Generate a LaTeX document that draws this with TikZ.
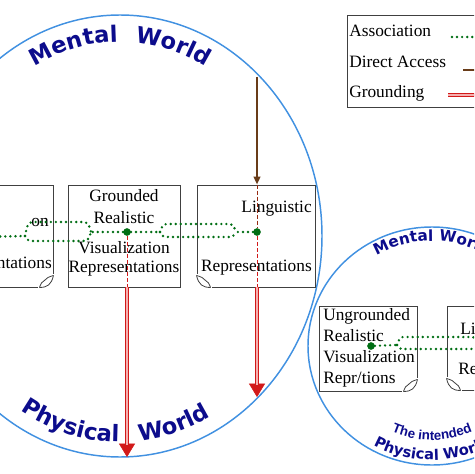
\documentclass[tikz,border=0pt]{standalone}
\usepackage{fontspec}
\setmainfont{Liberation Serif}
\newfontfamily\artfont{DejaVu Sans}
\newfontfamily\artnarrow{Liberation Sans}
\usetikzlibrary{arrows.meta,calc,decorations.text}

\definecolor{worldblue}{RGB}{65,145,225}
\definecolor{navytext}{RGB}{12,12,140}
\definecolor{assocgreen}{RGB}{0,110,20}
\definecolor{accessbrown}{RGB}{105,60,25}
\definecolor{groundred}{RGB}{210,25,25}
\definecolor{groundpink}{RGB}{245,175,175}

\tikzset{
  world/.style={draw=worldblue, line width=1.1pt},
  card/.style={draw=black!75, fill=white, line width=0.7pt, inner sep=0pt},
  cardline/.style={draw=black!75, line width=0.6pt},
  lbl/.style={font=\fontsize{13}{16}\selectfont, inner sep=0pt},
  bigart/.style={decorate, decoration={text along path,
    text={|\artfont\bfseries\fontsize{17}{20}\selectfont\color{navytext}|#1}}},
  assoc/.style={draw=assocgreen, line width=2pt, line cap=round, dash pattern=on 0pt off 3.8pt},
  assocdot/.style={circle, fill=assocgreen, inner sep=0pt, minimum size=5.5pt},
  accessline/.style={draw=accessbrown, line width=1.5pt},
  access/.style={accessline, -{Triangle[width=5pt,length=6pt]}},
  accessdash/.style={draw=accessbrown!70!red, line width=0.6pt, dash pattern=on 3pt off 1.5pt},
  grounddash/.style={draw=groundred, line width=0.6pt, dash pattern=on 3pt off 1.5pt},
  ground/.style={draw=groundred, double=groundpink, double distance=2pt, line width=0.8pt},
  groundtip/.style={draw=groundred, line width=0.4pt, -{Triangle[width=12pt,length=10pt]}},
}

\begin{document}
\begin{tikzpicture}[x=0.75pt, y=-0.75pt, >=latex]
\useasboundingbox (0,0) rectangle (474,474);
\clip (0,0) rectangle (474,474);

% the two worlds
\draw[world] (120,236) ellipse [x radius=202, y radius=221];
\draw[world] (432,346) ellipse [x radius=124, y radius=119];

\path[bigart=Mental, decoration={text align=right}]
  (120,236) ++(200:175 and 194) arc[start angle=200, end angle=269.3, x radius=175, y radius=194];
\path[bigart=World, decoration={text align=left}]
  (120,236) ++(274.9:175 and 194) arc[start angle=274.9, end angle=340, x radius=175, y radius=194];
\path[bigart=Physical, decoration={text align=right}]
  (120,236) ++(150:187 and 206) arc[start angle=150, end angle=90.3, x radius=187, y radius=206];
\path[bigart=World, decoration={text align=left}]
  (120,236) ++(83.9:187 and 206) arc[start angle=83.9, end angle=30, x radius=187, y radius=206];
\path[decorate, decoration={text along path, text align=center,
  text={|\artfont\bfseries\fontsize{11.5}{14}\selectfont\color{navytext}|Mental World}}]
  (432,346) ++(200:110 and 105) arc[start angle=200, end angle=340, x radius=110, y radius=105];
\path[decorate, decoration={text along path, text align=center,
  text={|\artfont\bfseries\fontsize{11}{14}\selectfont\color{navytext}|Physical World}}]
  (432,346) ++(150:119 and 114) arc[start angle=150, end angle=30, x radius=119, y radius=114];
\path[decorate, decoration={text along path, text align=center,
  text={|\artnarrow\bfseries\fontsize{10}{12}\selectfont\color{navytext}|The intended}}]
  (432,346) ++(140:99 and 94) arc[start angle=140, end angle=40, x radius=99, y radius=94];

% representations
\node[card, minimum width=84.75pt, minimum height=76.5pt] (rep) at (-3.5,236) {};
\node[card, minimum width=84pt, minimum height=76.5pt] (grd) at (124,236) {};
\node[card, minimum width=88.5pt, minimum height=76.5pt] (ling) at (256,236) {};
\node[card, minimum width=73.5pt, minimum height=63.75pt] (ungr) at (368,348.5) {};
\node[card, minimum width=90pt, minimum height=63pt] (ling2) at (507,348) {};

% folded corners
\foreach \b/\a/\s/\m in {rep/south east/1/-1, ling/south west/-1/1, ungr/south east/1/-1, ling2/south west/-1/1}
{
    \fill[white] ($(\b.\a)+(\m*15,-13)$) rectangle ($(\b.\a)+(\s*1.5,1.5)$);
    \draw[cardline] ($(\b.\a)+(0,-12)$) .. controls ($(\b.\a)+(\m*2,-3)$) and ($(\b.\a)+(\m*6,0)$) .. ($(\b.\a)+(\m*14,0)$);
    \draw[cardline] ($(\b.\a)+(0,-12)$) .. controls ($(\b.\a)+(\m*6,-10)$) .. ($(\b.\a)+(\m*9,-7)$)
        .. controls ($(\b.\a)+(\m*12,-5)$) .. ($(\b.\a)+(\m*14,0)$);
}

\node[lbl, anchor=base east] (rep1) at (49,226) {on};
\node[lbl, anchor=base east] (rep2) at (52,268) {entations};
\foreach \t/\y in {Grounded/201, Realistic/223, Visualization/253, Representations/272}
    \node[lbl, anchor=base] (grd\y) at (124,\y) {\t};
\node[lbl, anchor=base east] (ling1) at (312,212) {Linguistic};
\node[lbl, anchor=base east] (ling2) at (312,271) {Representations};
\foreach \t/\y in {Ungrounded/320, Realistic/341, Visualization/362, Repr\slash tions/383}
    \node[lbl, anchor=base west] (ungr\y) at (323,\y) {\t};
\node[lbl, anchor=base west] (lingb1) at (460,334) {Linguistic};
\node[lbl, anchor=base west] (lingb2) at (458,374) {Representations};

% legend
\node[card, minimum width=144.75pt, minimum height=69pt] (legend) at (443.5,61) {};
\node[lbl, anchor=base west] (kassoc) at (349,37) {Association};
\node[lbl, anchor=base west] (kaccess) at (349,68) {Direct Access};
\node[lbl, anchor=base west] (kground) at (349,98) {Grounding};
\coordinate (ka1) at (452,37);  \coordinate (ka2) at (500,37);
\coordinate (kb1) at (463,70);  \coordinate (kb2) at (500,70);
\coordinate (kc1) at (448,95);  \coordinate (kc2) at (500,95);
\draw[assoc] (ka1) -- (ka2);
\draw[accessline] (kb1) -- (kb2);
\draw[ground] (kc1) -- (kc2);

% association
\coordinate (rdot) at (-20,237);
\coordinate (l2dot) at (530,342);
\node[assocdot] (gdot) at (127,232) {};
\node[assocdot] (ldot) at (257,232) {};
\node[assocdot] (udot) at (371,346) {};

\draw[assoc] (rdot) -- (25,236) coordinate (r1);
\draw[assoc] (gdot) -- (91,232) coordinate (r2);
\foreach \y in {222,241}
    \draw[assoc] (r1) .. controls (28,\y) .. (36,\y) -- (80,\y) .. controls (88,\y) .. (r2);
\draw[assoc] (gdot) -- (160,232) coordinate (g1);
\draw[assoc] (ldot) -- (236,232) coordinate (g2);
\foreach \y in {224,237}
    \draw[assoc] (g1) .. controls (163,\y) .. (170,\y) -- (226,\y) .. controls (233,\y) .. (g2);
\draw[assoc] (udot) -- (397,345) coordinate (u1);
\draw[assoc] (l2dot) -- (478,342) coordinate (u2);
\foreach \y in {337,349}
    \draw[assoc] (u1) .. controls (400,\y) .. (406,\y) -- (468,\y) .. controls (475,\y) .. (u2);

% direct access and grounding
\coordinate (da) at (257,77);
\coordinate (pw1) at (127,457);
\coordinate (pw2) at (257,397);
\draw[access] (da) -- (ldot |- ling.north);
\draw[accessdash] (ldot |- ling.north) -- (ldot);
\draw[grounddash] (ldot) -- (ldot |- ling.south);
\draw[grounddash] (gdot) -- (gdot |- grd.south);
\draw[groundtip] (gdot |- grd.south) -- (pw1);
\draw[ground, shorten >=9pt] (gdot |- grd.south) -- (pw1);
\draw[groundtip] (ldot |- ling.south) -- (pw2);
\draw[ground, shorten >=9pt] (ldot |- ling.south) -- (pw2);

\node[assocdot] (gdot2) at (gdot) {};
\node[assocdot] (ldot2) at (ldot) {};
\node[assocdot] (udot2) at (udot) {};
\end{tikzpicture}
\end{document}
